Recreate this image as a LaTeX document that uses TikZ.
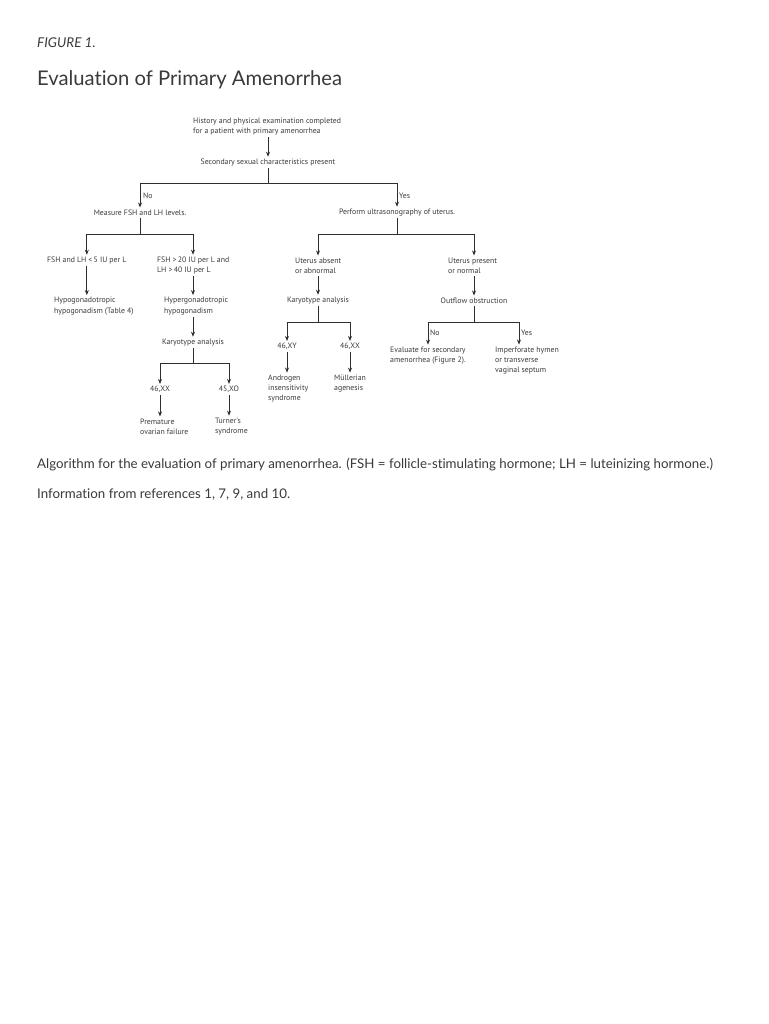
\documentclass[tikz,border=0pt]{standalone}
\usepackage{fontspec}
\setmainfont{Lato}[Ligatures=NoCommon]
\newfontfamily\diagfont{PT Sans}
\usetikzlibrary{arrows.meta}
\definecolor{txt}{HTML}{3A3A3A}
\definecolor{dtxt}{HTML}{3A3A3A}
\definecolor{ln}{HTML}{2E2E2E}
\tikzset{
  box/.style={inner xsep=0pt, inner ysep=2pt, yshift=-1.5pt, text=dtxt, font=\diagfont\fontsize{7.8}{10.2}\selectfont, align=left},
  cbox/.style={box, anchor=center},
  lbox/.style={box, anchor=west},
  lab/.style={box, anchor=west},
  ln/.style={draw=ln, line width=0.7pt},
  arr/.style={ln, -{Stealth[length=5pt,width=4pt]}},
}
\begin{document}
\begin{tikzpicture}[x=1pt,y=-1pt]
\useasboundingbox (0,0) rectangle (768,1024);
\fill[white] (0,0) rectangle (768,1024);
% header
\node[anchor=west, inner sep=0, text=txt, font=\itshape\fontsize{13.5}{16}\selectfont] (fig) at (37,43) {FIGURE 1.};
\node[anchor=west, inner sep=0, text=txt, font=\fontsize{20.2}{24}\selectfont] (title) at (37,80) {Evaluation of Primary Amenorrhea};
% diagram nodes
\node[lbox] (hist) at (193,125) {History and physical examination completed\\for a patient with primary amenorrhea};
\node[cbox] (sec) at (268,161) {Secondary sexual characteristics present};
\node[cbox] (meas) at (140,211) {Measure FSH and LH levels.};
\node[cbox] (perf) at (397,211) {Perform ultrasonography of uterus.};
\node[lbox] (fshlow) at (47,259) {FSH and LH {<}\,5 IU per L};
\node[lbox] (fshhigh) at (157,264) {FSH {>}\,20 IU per L and\\LH {>}\,40 IU per L};
\node[lbox] (hypo) at (54,304.5) {Hypogonadotropic\\hypogonadism (Table 4)};
\node[lbox] (hyper) at (164,304.5) {Hypergonadotropic\\hypogonadism};
\node[cbox] (kar1) at (193,341) {Karyotype analysis};
\node[cbox] (xx1) at (160,388) {46,XX};
\node[cbox] (xo) at (229,388) {45,XO};
\node[lbox] (prem) at (140,425) {Premature\\ovarian failure};
\node[lbox] (turn) at (215,425) {Turner's\\syndrome};
\node[lbox] (uabs) at (295,264) {Uterus absent\\or abnormal};
\node[lbox] (upres) at (448,264) {Uterus present\\or normal};
\node[cbox] (kar2) at (318,299) {Karyotype analysis};
\node[cbox] (out) at (474,299) {Outflow obstruction};
\node[cbox] (xy) at (287,345) {46,XY};
\node[cbox] (xx2) at (350,345) {46,XX};
\node[lbox] (andr) at (268,387) {Androgen\\insensitivity\\syndrome};
\node[lbox] (mull) at (334,382) {M\"ullerian\\agenesis};
\node[lbox] (eval) at (390,354) {Evaluate for secondary\\amenorrhea (Figure 2).};
\node[lbox] (imp) at (495,359) {Imperforate hymen\\or transverse\\vaginal septum};
% labels
\node[lab] (no1) at (143,194) {No};
\node[lab] (yes1) at (399,194) {Yes};
\node[lab] (no2) at (430,331) {No};
\node[lab] (yes2) at (521,331) {Yes};
% junctions
\coordinate (j1) at (268,183);
\coordinate (j2) at (140,234);
\coordinate (j3) at (193,363);
\coordinate (j4) at (397,234);
\coordinate (j5) at (318,322);
\coordinate (j6) at (474,322);
\coordinate (j6r) at (519,322);
% connectors
\draw[arr] (hist.south -| sec.north) -- (sec.north);
\draw[ln] (sec.south) -- (j1);
\draw[arr] (j1) -| (meas.north);
\draw[arr] (j1) -| (perf.north);
\draw[ln] (meas.south) -- (j2);
\draw[arr] (j2) -| (fshlow.north);
\draw[arr] (j2) -| (fshhigh.north -| kar1.north);
\draw[arr] (fshlow.south) -- (hypo.north -| fshlow.south);
\draw[arr] (fshhigh.south -| kar1.north) -- (hyper.north -| kar1.north);
\draw[arr] (hyper.south -| kar1.north) -- (kar1.north);
\draw[ln] (kar1.south) -- (j3);
\draw[arr] (j3) -| (xx1.north);
\draw[arr] (j3) -| (xo.north);
\draw[arr] (xx1.south) -- (prem.north -| xx1.south);
\draw[arr] (xo.south) -- (turn.north -| xo.south);
\draw[ln] (perf.south) -- (j4);
\draw[arr] (j4) -| (uabs.north -| kar2.north);
\draw[arr] (j4) -| (upres.north -| out.north);
\draw[arr] (uabs.south -| kar2.north) -- (kar2.north);
\draw[arr] (upres.south -| out.north) -- (out.north);
\draw[ln] (kar2.south) -- (j5);
\draw[arr] (j5) -| (xy.north);
\draw[arr] (j5) -| (xx2.north);
\draw[arr] (xy.south) -- (andr.north -| xy.south);
\draw[arr] (xx2.south) -- (mull.north -| xx2.south);
\draw[ln] (out.south) -- (j6);
\draw[arr] (j6) -| (eval.north);
\draw[ln] (j6) -- (j6r);
\draw[arr] (j6r) -- (imp.north -| j6r);
% caption
\node[anchor=west, inner sep=0, text=txt, font=\fontsize{13.3}{16}\selectfont] (cap1) at (37,465) {Algorithm for the evaluation of primary amenorrhea. (FSH = follicle-stimulating hormone; LH = luteinizing hormone.)};
\node[anchor=west, inner sep=0, text=txt, font=\fontsize{13.3}{16}\selectfont] (cap2) at (37,494) {Information from references 1, 7, 9, and 10.};
\end{tikzpicture}
\end{document}
